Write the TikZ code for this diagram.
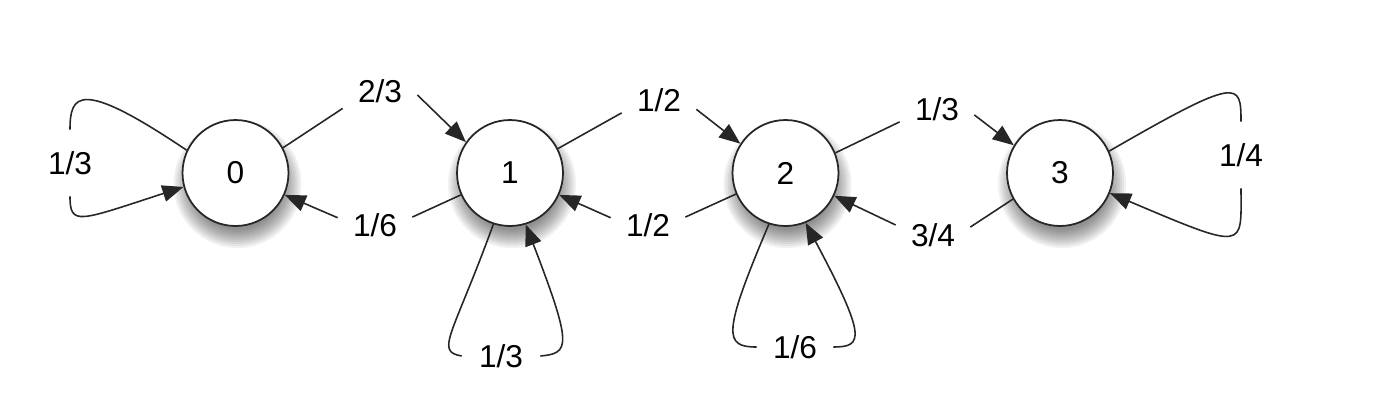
\documentclass[tikz,border=0pt]{standalone}
\usepackage{fontspec}
\setmainfont{Liberation Sans}
\usetikzlibrary{arrows.meta}
\definecolor{ln}{HTML}{262626}
\begin{document}
\begin{tikzpicture}[x=0.02cm,y=-0.02cm,
  stnode/.style={circle,draw=ln,line width=1pt,fill=white,minimum size=2.12cm,inner sep=0pt,
    font=\fontsize{18}{20}\selectfont},
  shadowring/.style={fill=black,opacity=0.055},
  lbl/.style={inner sep=0pt,minimum width=1.48cm,minimum height=0.72cm,font=\fontsize{18}{20}\selectfont},
  conn/.style={draw=ln,line width=0.9pt},
  conna/.style={conn,-{Triangle[length=12pt,width=9.5pt]}}]
\useasboundingbox (0,0) rectangle (1375,414);
% soft shadows
\foreach \cx in {235.5,510,785.5,1060}
  \foreach \r in {64,62,...,46}
    \fill[shadowring] (\cx+2,184) circle[radius=\r];
% states
\node[stnode] (n0) at (235.5,173) {0};
\node[stnode] (n1) at (510,173) {1};
\node[stnode] (n2) at (785.5,173) {2};
\node[stnode] (n3) at (1060,173) {3};
% labels
\node[lbl] (l01) at (380,91) {2/3};
\node[lbl] (l10) at (375,225) {1/6};
\node[lbl] (l12) at (659,100) {1/2};
\node[lbl] (l21) at (648,225) {1/2};
\node[lbl] (l23) at (937,109) {1/3};
\node[lbl] (l32) at (933,235) {3/4};
\node[lbl,minimum width=0.88cm,minimum height=1.32cm] (l0) at (70,163) {1/3};
\node[lbl,minimum width=0.88cm,minimum height=1.32cm] (l3) at (1241,155) {1/4};
\node[lbl,minimum width=1.56cm] (l1) at (501,356) {1/3};
\node[lbl,minimum width=1.52cm] (l2) at (795,347) {1/6};
% transitions between states
\draw[conn] (n0.28) -- (l01.205);
\draw[conna] (l01.-6) -- (n1.145);
\draw[conn] (n1.204) -- (l10.12);
\draw[conna] (l10.169) -- (n0.-24);
\draw[conn] (n1.27) -- (l12.199);
\draw[conna] (l12.-14) -- (n2.147);
\draw[conn] (n2.203) -- (l21.12);
\draw[conna] (l21.169) -- (n1.-24);
\draw[conn] (n2.22) -- (l23.199);
\draw[conna] (l23.-9) -- (n3.149);
\draw[conn] (n3.209) -- (l32.12);
\draw[conna] (l32.165) -- (n2.-25);
% self loops
\draw[conn] (n0.155) to[out=146,in=90,out distance=2.6cm,in distance=0.7cm] (l0.north);
\draw[conna] (l0.south) to[out=270,in=198,out distance=0.6cm,in distance=2.2cm] (n0.195);
\draw[conn] (n3.24) to[out=30,in=90,out distance=3cm,in distance=0.8cm] (l3.north);
\draw[conna] (l3.south) to[out=270,in=-23,out distance=1.2cm,in distance=3cm] (n3.-22);
\draw[conn] (n1.252) to[out=250,in=170,out distance=2.4cm,in distance=0.55cm] (l1.west);
\draw[conna] (l1.east) to[out=5,in=291,out distance=0.6cm,in distance=2.6cm] (n1.287);
\draw[conn] (n2.252) to[out=247,in=180,out distance=2.4cm,in distance=0.65cm] (l2.west);
\draw[conna] (l2.east) to[out=0,in=-62,out distance=0.6cm,in distance=2.6cm] (n2.-68);
\end{tikzpicture}
\end{document}
